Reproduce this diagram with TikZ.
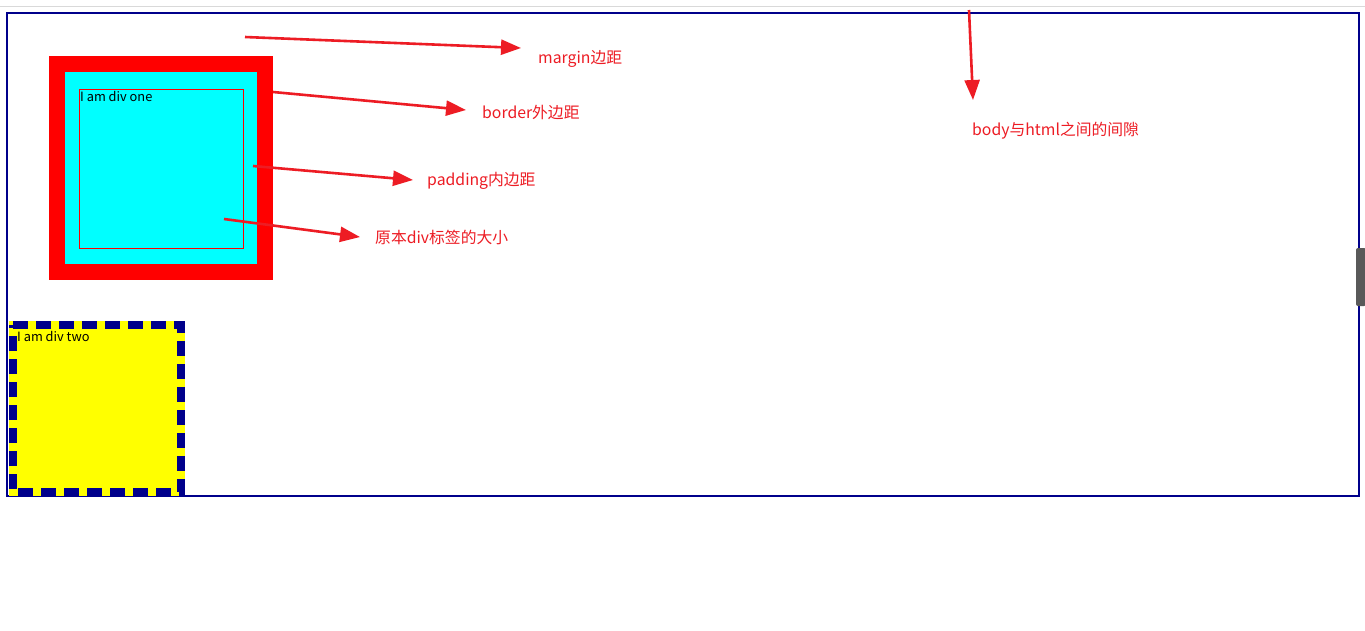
\documentclass[tikz,border=0pt]{standalone}
\usepackage{fontspec}
\setmainfont{Noto Sans CJK SC}
\usetikzlibrary{arrows.meta}
\definecolor{navy}{RGB}{0,0,139}
\definecolor{arr}{RGB}{237,28,36}
\definecolor{cyanrgb}{RGB}{0,255,255}
\definecolor{yellowrgb}{RGB}{255,255,0}
\definecolor{redrgb}{RGB}{255,0,0}
\tikzset{
  lbl/.style={anchor=west,text=arr,font=\fontsize{15.8}{16}\selectfont,inner sep=0pt},
  divtxt/.style={anchor=north west,font=\fontsize{12.8}{13}\selectfont,inner sep=0pt},
  pointer/.style={draw=arr,line width=2.6pt,-{Triangle[length=20pt,width=15pt]}}
}
\begin{document}
\begin{tikzpicture}[x=1pt,y=-1pt]
\useasboundingbox (0,0) rectangle (1365,630);
\fill[white] (0,0) rectangle (1365,630);
\draw[black!15,line width=1pt] (0,6) -- (1365,6);
% body
\draw[navy,line width=2pt] (7,13) rectangle (1359,496);
% scrollbar grip
\fill[black!65,rounded corners=2pt] (1356,248) rectangle (1366,306);
% div one
\fill[redrgb] (49,56) rectangle (273,280);
\fill[cyanrgb] (65,72) rectangle (257,264);
\draw[redrgb,line width=0.7pt] (79,89) rectangle (243,248);
\node[divtxt] (one) at (80,91) {I am div one};
% div two
\fill[yellowrgb] (9,321) rectangle (185,496);
\draw[navy,line width=8pt,dash pattern=on 15pt off 8pt] (13,325) -- (181,325) -- (181,492) -- (13,492) -- cycle;
\node[divtxt] (two) at (17,331) {I am div two};
% labels
\node[lbl] (l1) at (538,59) {margin边距};
\node[lbl] (l2) at (482,112) {border外边距};
\node[lbl] (l3) at (427,181) {padding内边距};
\node[lbl] (l4) at (375,237) {原本div标签的大小};
\node[lbl] (l5) at (972,131) {body与html之间的间隙};
% arrows
\coordinate (s1) at (245,37); \coordinate (e1) at (521,48);
\coordinate (s2) at (273,92); \coordinate (e2) at (466,110);
\coordinate (s3) at (253,166); \coordinate (e3) at (413,180);
\coordinate (s4) at (224,219); \coordinate (e4) at (360,237);
\coordinate (s5) at (969,10); \coordinate (e5) at (973,100);
\draw[pointer] (s1) -- (e1);
\draw[pointer] (s2) -- (e2);
\draw[pointer] (s3) -- (e3);
\draw[pointer] (s4) -- (e4);
\draw[pointer] (s5) -- (e5);
\end{tikzpicture}
\end{document}
